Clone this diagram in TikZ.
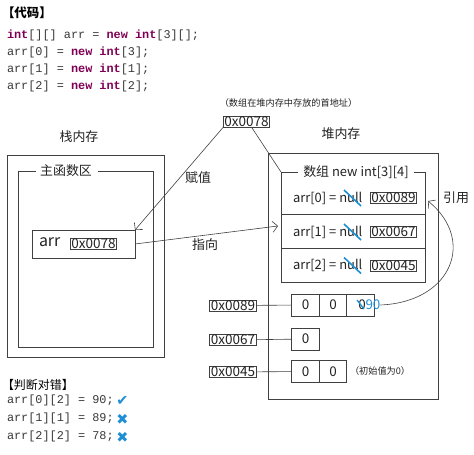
\documentclass[tikz,border=0pt]{standalone}
\usepackage{fontspec}
\setmainfont{Noto Sans CJK SC}
\setmonofont{Liberation Mono}
\newfontfamily\dejavu{DejaVu Sans}
\usetikzlibrary{arrows.meta,calc}
\definecolor{kw}{HTML}{7F0055}
\definecolor{ln}{HTML}{404040}
\definecolor{bl}{HTML}{1E8FD5}
\definecolor{tx}{HTML}{222222}
\newcommand\kwd[1]{\textcolor{kw}{\textbf{#1}}}
\begin{document}
\begin{tikzpicture}[x=1bp,y=-1bp,
  every node/.style={inner sep=0pt, outer sep=0pt, text=tx},
  frame/.style={draw=ln, line width=0.8bp},
  addr/.style={draw=ln, line width=0.7bp, inner xsep=1bp, inner ysep=0.4bp,
    font=\fontsize{13.6}{13.6}\selectfont, text height=9.8bp, text depth=0.6bp},
  lbl/.style={font=\fontsize{13}{13}\selectfont},
  small/.style={font=\fontsize{9.2}{9.2}\selectfont},
  code/.style={anchor=west, font=\ttfamily\fontsize{11.9}{12}\selectfont, text=black!78},
  cell/.style={draw=ln, line width=0.8bp, minimum width=27.5bp, minimum height=22bp,
    font=\fontsize{13.5}{13.5}\selectfont},
  conn/.style={draw=ln, line width=0.6bp},
  openarrow/.style={-{Straight Barb[length=5bp,width=11bp,line width=0.6bp]}},
  strike/.style={draw=bl, line width=1.6bp},
  chk/.style={text=bl, font=\dejavu\fontsize{14.5}{14.5}\selectfont}
]
\useasboundingbox (0,0) rectangle (474,455);

% ---------- code ----------
\node[anchor=west, font=\bfseries\fontsize{12.5}{12.5}\selectfont, text=black] (codehdr) at (2,13) {【代码】};
\node[code] (c1) at (7,35) {\kwd{int}[][] arr = \kwd{new} \kwd{int}[3][];};
\node[code] (c2) at (7,52) {arr[0] = \kwd{new} \kwd{int}[3];};
\node[code] (c3) at (7,69) {arr[1] = \kwd{new} \kwd{int}[1];};
\node[code] (c4) at (7,86) {arr[2] = \kwd{new} \kwd{int}[2];};

% ---------- top address ----------
\node[small] (note) at (288.5,103) {（数组在堆内存中存放的首地址）};
\node[addr] (topaddr) at (246.5,121.5) {0x0078};

% ---------- stack ----------
\node[lbl] (stacklbl) at (79,137) {栈内存};
\node[frame, minimum width=157bp, minimum height=202bp] (stack) at (85.5,256) {};
\node[lbl] (mainlbl) at (66,171) {主函数区};
\draw[frame] (mainlbl.west) ++(-4,0) -- (18,171) -- (18,347) -- (153,347) -- (153,171) -- ($(mainlbl.east)+(6,0)$);
\node[frame, minimum width=103bp, minimum height=28bp] (arrbox) at (83.5,244) {};
\node[anchor=west, font=\fontsize{16}{16}\selectfont] (arrtxt) at (39,242.5) {arr};
\node[addr] (arraddr) at (93.5,243.5) {0x0078};

% ---------- heap ----------
\node[lbl] (heaplbl) at (341,134) {堆内存};
\node[frame, minimum width=170bp, minimum height=246bp] (heap) at (353,276) {};
\node[lbl] (arrtitle) at (356,172) {数组 new int[3][4]};
\draw[frame] ($(arrtitle.west)+(-5,0)$) -- (281,172) -- (281,282) -- (425,282) -- (425,172) -- ($(arrtitle.east)+(5,0)$);
\draw[frame] (281,214) -- (425,214);
\draw[frame] (281,248) -- (425,248);
\coordinate (arrTL) at (281,172);

\node[lbl, anchor=west] (r0) at (293,198) {arr[0] = null};
\node[addr] (r0a) at (393.5,198) {0x0089};
\draw[strike] (344,190) -- (361,206);
\node[lbl, anchor=west] (r1) at (293,232) {arr[1] = null};
\node[addr] (r1a) at (393.5,232) {0x0067};
\draw[strike] (344,224) -- (361,240);
\node[lbl, anchor=west] (r2) at (293,265.5) {arr[2] = null};
\node[addr] (r2a) at (393.5,265.5) {0x0045};
\draw[strike] (344,257.5) -- (361,273.5);

% ---------- bottom arrays ----------
\node[addr] (a89) at (233,305.5) {0x0089};
\node[cell] (a89c0) at (305.5,305) {0};
\node[cell] (a89c1) at (333,305) {0};
\node[cell] (a89c2) at (360.5,305) {};
\node[font=\fontsize{13.5}{13.5}\selectfont] (old0) at (362,305) {0};
\draw[strike, line width=1.3bp] (357,300) -- (364,309);
\node[anchor=west, text=bl, font=\fontsize{13.5}{13.5}\selectfont] (n90) at (365.5,305) {90};
\draw[conn] (a89) -- (a89c0);

\node[addr] (a67) at (233,340) {0x0067};
\node[cell] (a67c0) at (305.5,339) {0};
\draw[conn] (a67) -- (a67c0);

\node[addr] (a45) at (233,372) {0x0045};
\node[cell] (a45c0) at (305.5,371.5) {0};
\node[cell] (a45c1) at (333,371.5) {0};
\draw[conn] (a45) -- (a45c0);
\node[small, anchor=west] (initnote) at (350,371) {（初始值为0）};

% ---------- connectors ----------
\draw[conn, openarrow] (topaddr.south west) -- (arrbox.north east);
\node[lbl] (fuzhi) at (198,178) {赋值};
\coordinate (ptrtip) at (278,226);
\draw[conn, openarrow] (arrbox.east) -- (ptrtip);
\node[lbl] (zhixiang) at (205,245) {指向};
\draw[conn] ($(topaddr.south)+(5,0)$) -- (arrTL);
\coordinate (reftip) at (428,201);
\draw[conn, openarrow] (n90.east) .. controls (452,302) and (476,240) .. (reftip);
\node[lbl] (yinyong) at (456,198) {引用};

% ---------- judgement ----------
\node[anchor=west, font=\fontsize{12}{12}\selectfont, text=black] (judhdr) at (2,384.5) {【判断对错】};
\node[code] (j1) at (7,400.5) {arr[0][2] = 90;};
\node[chk] (ok) at (122.5,401) {✔};
\node[code] (j2) at (7,418.5) {arr[1][1] = 89;};
\node[chk] (x1) at (122.5,419) {✖};
\node[code] (j3) at (7,436.5) {arr[2][2] = 78;};
\node[chk] (x2) at (122.5,437) {✖};
\end{tikzpicture}
\end{document}
